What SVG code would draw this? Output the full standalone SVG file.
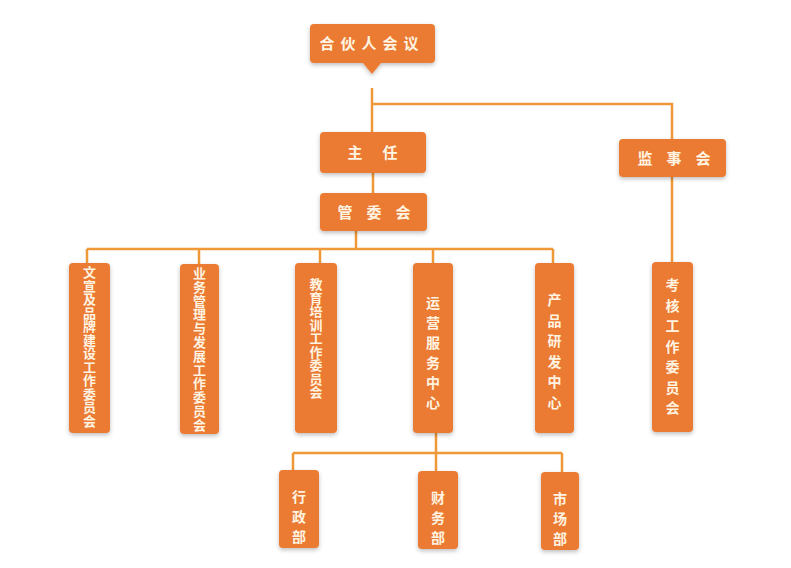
<svg xmlns="http://www.w3.org/2000/svg" width="791" height="568" viewBox="0 0 791 568">
<defs>
<filter id="sh" x="-30%" y="-30%" width="160%" height="160%">
<feDropShadow dx="0" dy="2" stdDeviation="2" flood-color="#000" flood-opacity="0.25"/>
</filter>
<style>
.n{fill:#EB7A30;filter:url(#sh)}
.t{fill:#FFF4E2;font-family:"Noto Sans CJK SC","Noto Sans",sans-serif;font-weight:bold;font-size:15px;text-anchor:middle}
.v{fill:#FFF4E2;font-family:"Noto Sans CJK SC","Noto Sans",sans-serif;font-weight:bold;font-size:14px;text-anchor:middle}
.s{fill:#FFF4E2;font-family:"Noto Sans CJK SC","Noto Sans",sans-serif;font-weight:bold;font-size:13px;text-anchor:middle}
.c{stroke:#EE9838;stroke-width:2.5;fill:none}
</style>
</defs>
<rect width="791" height="568" fill="#fff"/>
<g id="connectors">
<path class="c" d="M372 88V132M372 104H672V139M373 173V193M672 177V262"/>
<path class="c" d="M356 231V249M87 249H553M87 249V263M199 249V264M320 249V263M433 249V263M553 249V263"/>
<path class="c" d="M436 433V471M293 453H562M293 453V470M562 453V472"/>
</g>
<g id="partner">
<path class="n" d="M314 24H431Q435 24 435 28V59Q435 63 431 63H381L372 74L363 63H314Q310 63 310 59V28Q310 24 314 24Z"/>
<text class="t" x="372" y="49" letter-spacing="6">合伙人会议</text>
</g>
<g id="director">
<rect class="n" x="320" y="132" width="106" height="41" rx="4"/>
<text class="t" x="373" y="158"><tspan x="355">主</tspan><tspan x="390">任</tspan></text>
</g>
<g id="committee">
<rect class="n" x="320" y="193" width="107" height="38" rx="4"/>
<text class="t" x="373" y="218"><tspan x="345">管</tspan><tspan x="374">委</tspan><tspan x="403">会</tspan></text>
</g>
<g id="supervisory">
<rect class="n" x="619" y="139" width="107" height="38" rx="4"/>
<text class="t" x="673" y="164"><tspan x="645">监</tspan><tspan x="674">事</tspan><tspan x="703">会</tspan></text>
</g>
<g id="n1">
<rect class="n" x="69" y="263" width="41" height="170" rx="4"/>
<text class="s"><tspan x="89.5" y="277">文</tspan><tspan x="89.5" dy="13.5">宣</tspan><tspan x="89.5" dy="13.5">及</tspan><tspan x="89.5" dy="13.5">品</tspan><tspan x="89.5" dy="13.5">牌</tspan><tspan x="89.5" dy="13.5">建</tspan><tspan x="89.5" dy="13.5">设</tspan><tspan x="89.5" dy="13.5">工</tspan><tspan x="89.5" dy="13.5">作</tspan><tspan x="89.5" dy="13.5">委</tspan><tspan x="89.5" dy="13.5">员</tspan><tspan x="89.5" dy="13.5">会</tspan></text>
</g>
<g id="n2">
<rect class="n" x="180" y="264" width="39" height="170" rx="4"/>
<text class="s"><tspan x="199.5" y="278">业</tspan><tspan x="199.5" dy="13.8">务</tspan><tspan x="199.5" dy="13.8">管</tspan><tspan x="199.5" dy="13.8">理</tspan><tspan x="199.5" dy="13.8">与</tspan><tspan x="199.5" dy="13.8">发</tspan><tspan x="199.5" dy="13.8">展</tspan><tspan x="199.5" dy="13.8">工</tspan><tspan x="199.5" dy="13.8">作</tspan><tspan x="199.5" dy="13.8">委</tspan><tspan x="199.5" dy="13.8">员</tspan><tspan x="199.5" dy="13.8">会</tspan></text>
</g>
<g id="n3">
<rect class="n" x="295" y="263" width="42" height="170" rx="4"/>
<text class="s"><tspan x="316" y="289">教</tspan><tspan x="316" dy="13.5">育</tspan><tspan x="316" dy="13.5">培</tspan><tspan x="316" dy="13.5">训</tspan><tspan x="316" dy="13.5">工</tspan><tspan x="316" dy="13.5">作</tspan><tspan x="316" dy="13.5">委</tspan><tspan x="316" dy="13.5">员</tspan><tspan x="316" dy="13.5">会</tspan></text>
</g>
<g id="n4">
<rect class="n" x="413" y="263" width="40" height="170" rx="4"/>
<text class="v"><tspan x="433" y="308">运</tspan><tspan x="433" dy="20">营</tspan><tspan x="433" dy="20">服</tspan><tspan x="433" dy="20">务</tspan><tspan x="433" dy="20">中</tspan><tspan x="433" dy="20">心</tspan></text>
</g>
<g id="n5">
<rect class="n" x="535" y="263" width="39" height="170" rx="4"/>
<text class="v"><tspan x="554.5" y="305">产</tspan><tspan x="554.5" dy="20.6">品</tspan><tspan x="554.5" dy="20.6">研</tspan><tspan x="554.5" dy="20.6">发</tspan><tspan x="554.5" dy="20.6">中</tspan><tspan x="554.5" dy="20.6">心</tspan></text>
</g>
<g id="n6">
<rect class="n" x="652" y="262" width="41" height="170" rx="4"/>
<text class="v"><tspan x="672.5" y="290">考</tspan><tspan x="672.5" dy="20.5">核</tspan><tspan x="672.5" dy="20.5">工</tspan><tspan x="672.5" dy="20.5">作</tspan><tspan x="672.5" dy="20.5">委</tspan><tspan x="672.5" dy="20.5">员</tspan><tspan x="672.5" dy="20.5">会</tspan></text>
</g>
<g id="d1">
<rect class="n" x="279" y="470" width="40" height="78" rx="4"/>
<text class="v"><tspan x="299" y="502">行</tspan><tspan x="299" dy="20">政</tspan><tspan x="299" dy="20">部</tspan></text>
</g>
<g id="d2">
<rect class="n" x="418" y="471" width="40" height="78" rx="4"/>
<text class="v"><tspan x="438" y="503">财</tspan><tspan x="438" dy="20">务</tspan><tspan x="438" dy="20">部</tspan></text>
</g>
<g id="d3">
<rect class="n" x="541" y="472" width="38" height="78" rx="4"/>
<text class="v"><tspan x="560" y="504">市</tspan><tspan x="560" dy="20">场</tspan><tspan x="560" dy="20">部</tspan></text>
</g>
</svg>
